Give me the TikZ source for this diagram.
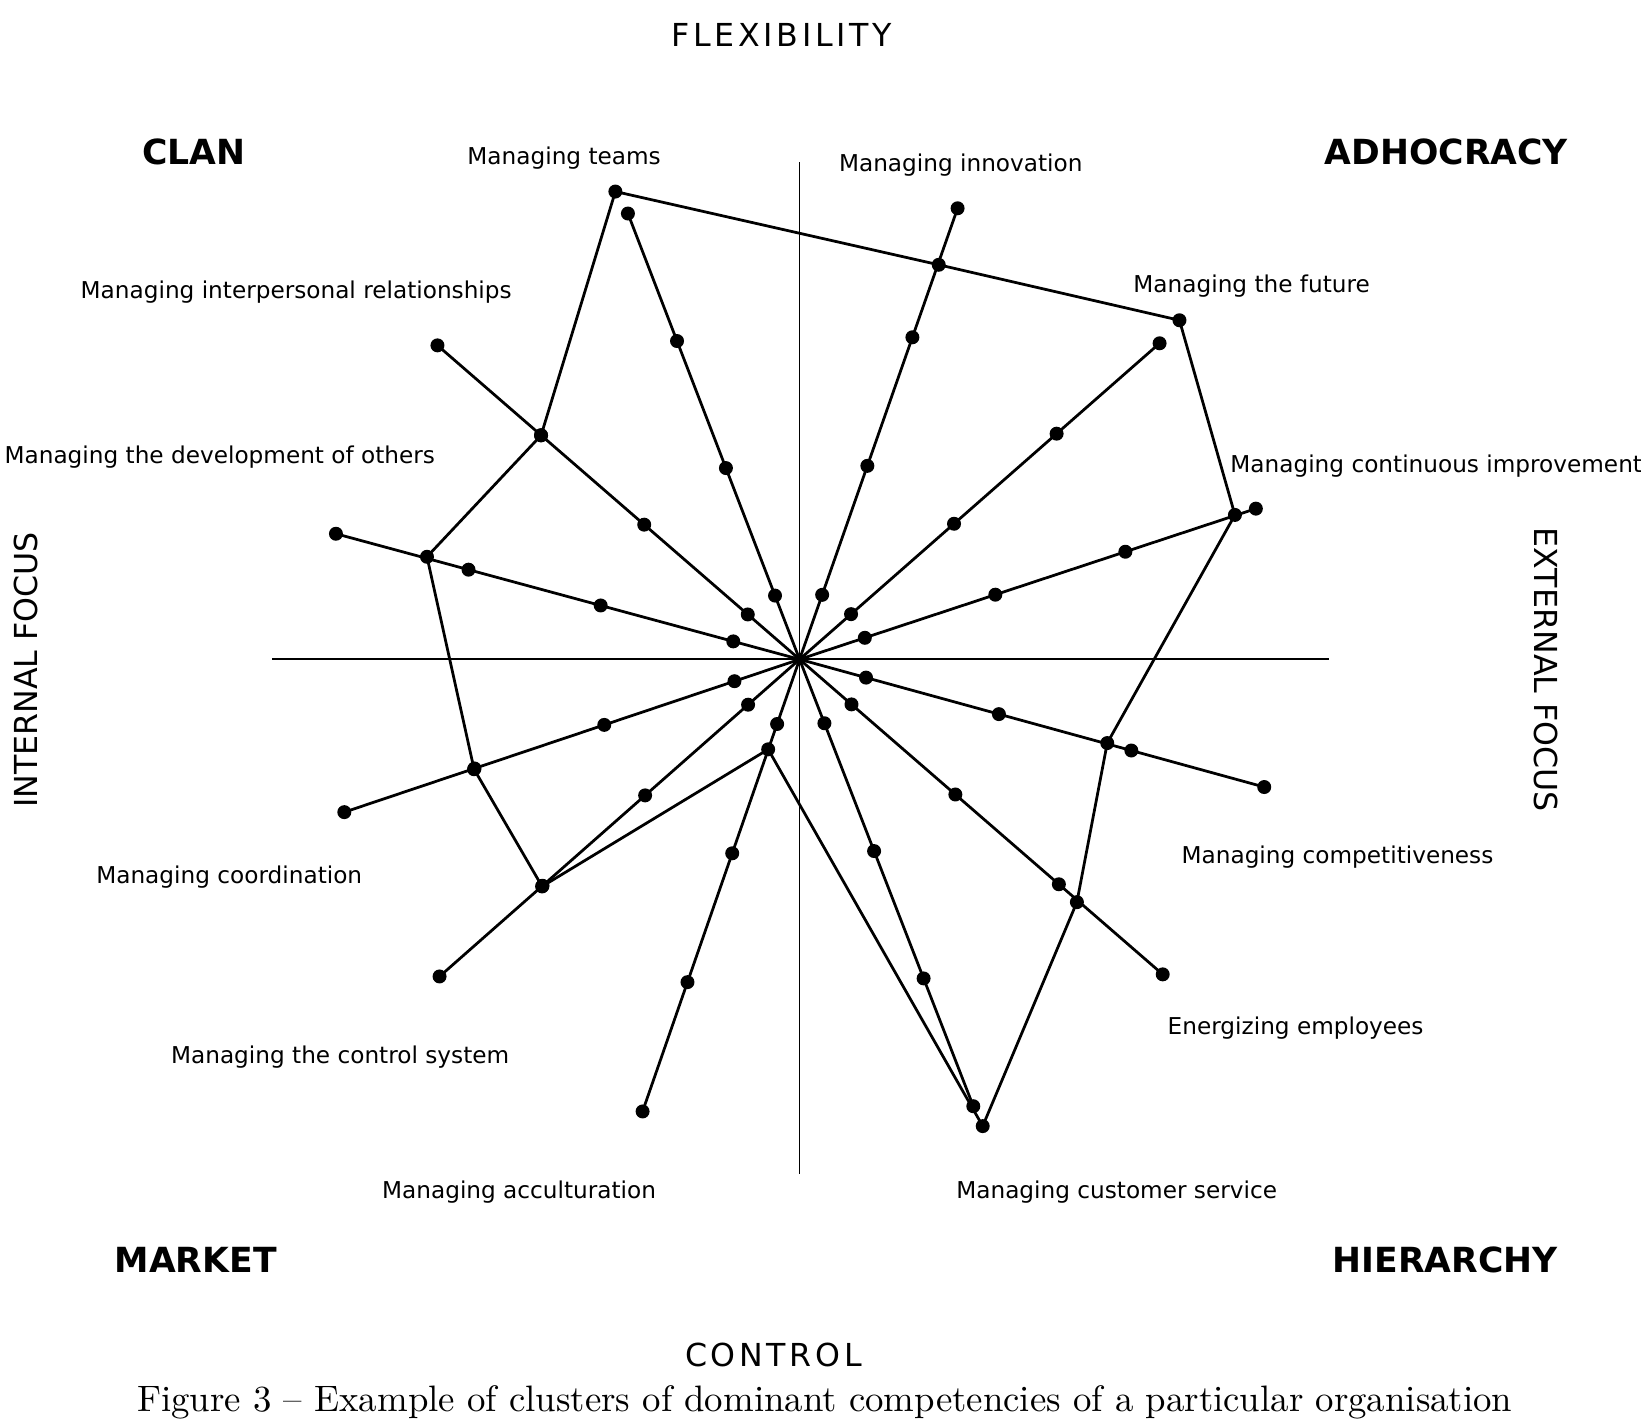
\documentclass[tikz,border=0pt]{standalone}
\usepackage{fontspec}
\setmainfont{DejaVu Sans}
\newfontfamily\capfont{Latin Modern Roman}
\usetikzlibrary{calc}

\begin{document}
\begin{tikzpicture}[
        x=0.01cm, y=-0.01cm,
        line/.style={line width=0.75pt},
        axis/.style={line width=0.5pt},
        dot/.style={circle, fill=black, inner sep=0pt, minimum size=3.8pt},
        lbl/.style={font=\fontsize{6.3}{8}\selectfont},
        quad/.style={font=\fontsize{9.4}{11}\selectfont\bfseries},
        axlbl/.style={font=\fontsize{8.6}{10}\selectfont}
    ]
        \useasboundingbox (0,0) rectangle (1568,1356);

        % Axes
        \coordinate (c) at (764,630);
        \coordinate (xl) at (260,630);
        \coordinate (xr) at (1270,630);
        \coordinate (yt) at (764,155);
        \coordinate (yb) at (764,1122);
        \draw[axis] (xl) -- (xr);
        \draw[axis] (yt) -- (yb);

        % Spokes
        \foreach \name/\x/\y in {teams/600/204, innovation/915/199, future/1108/328,
                                 improvement/1200/486, competitiveness/1208/752,
                                 energizing/1111/931, customer/930/1057,
                                 acculturation/614/1062, control/420/933,
                                 coordination/329/776, development/321/510,
                                 interpersonal/418/330} {
            \coordinate (\name) at (\x,\y);
            \draw[line] (c) -- (\name);
            \node[dot] at (\name) {};
            \foreach \f in {0.143, 0.429, 0.714}
                \node[dot] at ($(c)!\f!(\name)$) {};
        }

        % Cluster outline
        \foreach \name/\x/\y in {p1/588/183, p2/897/253, p3/1127/306, p4/1180/492,
                                 p5/1058/710, p6/1029/862, p7/939/1076, p8/734/716,
                                 p9/518/847, p10/453/735, p11/408/532, p12/517/416} {
            \coordinate (\name) at (\x,\y);
            \node[dot] at (\name) {};
        }
        \draw[line] (p1) -- (p2) -- (p3) -- (p4) -- (p5) -- (p6) -- (p7) -- (p8)
            -- (p9) -- (p10) -- (p11) -- (p12) -- cycle;

        % Labels
        \node[lbl] (lteams) at (539,151) {Managing teams};
        \node[lbl] (linnovation) at (918,158) {Managing innovation};
        \node[lbl] (lfuture) at (1196,273) {Managing the future};
        \node[lbl] (linterpersonal) at (283,279) {Managing interpersonal relationships};
        \node[lbl] (ldevelopment) at (210,437) {Managing the development of others};
        \node[lbl, anchor=west, inner sep=0pt] (limprovement) at (1175,445) {Managing continuous improvement};
        \node[lbl] (lcompetitiveness) at (1278,819) {Managing competitiveness};
        \node[lbl] (lenergizing) at (1238,982) {Energizing employees};
        \node[lbl] (lcustomer) at (1067,1139) {Managing customer service};
        \node[lbl] (lacculturation) at (496,1139) {Managing acculturation};
        \node[lbl] (lcontrol) at (325,1010) {Managing the control system};
        \node[lbl] (lcoordination) at (219,838) {Managing coordination};

        % Quadrants
        \node[quad] (clan) at (185,145) {CLAN};
        \node[quad] (adhocracy) at (1382,145) {ADHOCRACY};
        \node[quad] (market) at (187,1204) {MARKET};
        \node[quad] (hierarchy) at (1381,1204) {HIERARCHY};

        % Axis labels
        \node[axlbl] (flex) at (747,33) {F\kern1pt L\kern1pt E\kern1pt X\kern1pt I\kern1pt B\kern1pt I\kern1pt L\kern1pt I\kern1pt T\kern1pt Y};
        \node[axlbl] (ctrl) at (739,1295) {C\kern1pt O\kern1pt N\kern1pt T\kern1pt R\kern1pt O\kern1pt L};
        \node[axlbl, rotate=90] (internal) at (25,640) {INTERNAL FOCUS};
        \node[axlbl, rotate=-90] (external) at (1477,640) {EXTERNAL FOCUS};

        % Caption
        \node[font=\capfont\fontsize{10}{12}\selectfont] (caption) at (788,1340)
            {Figure 3 – Example of clusters of dominant competencies of a particular organisation};
    \end{tikzpicture}
\end{document}
